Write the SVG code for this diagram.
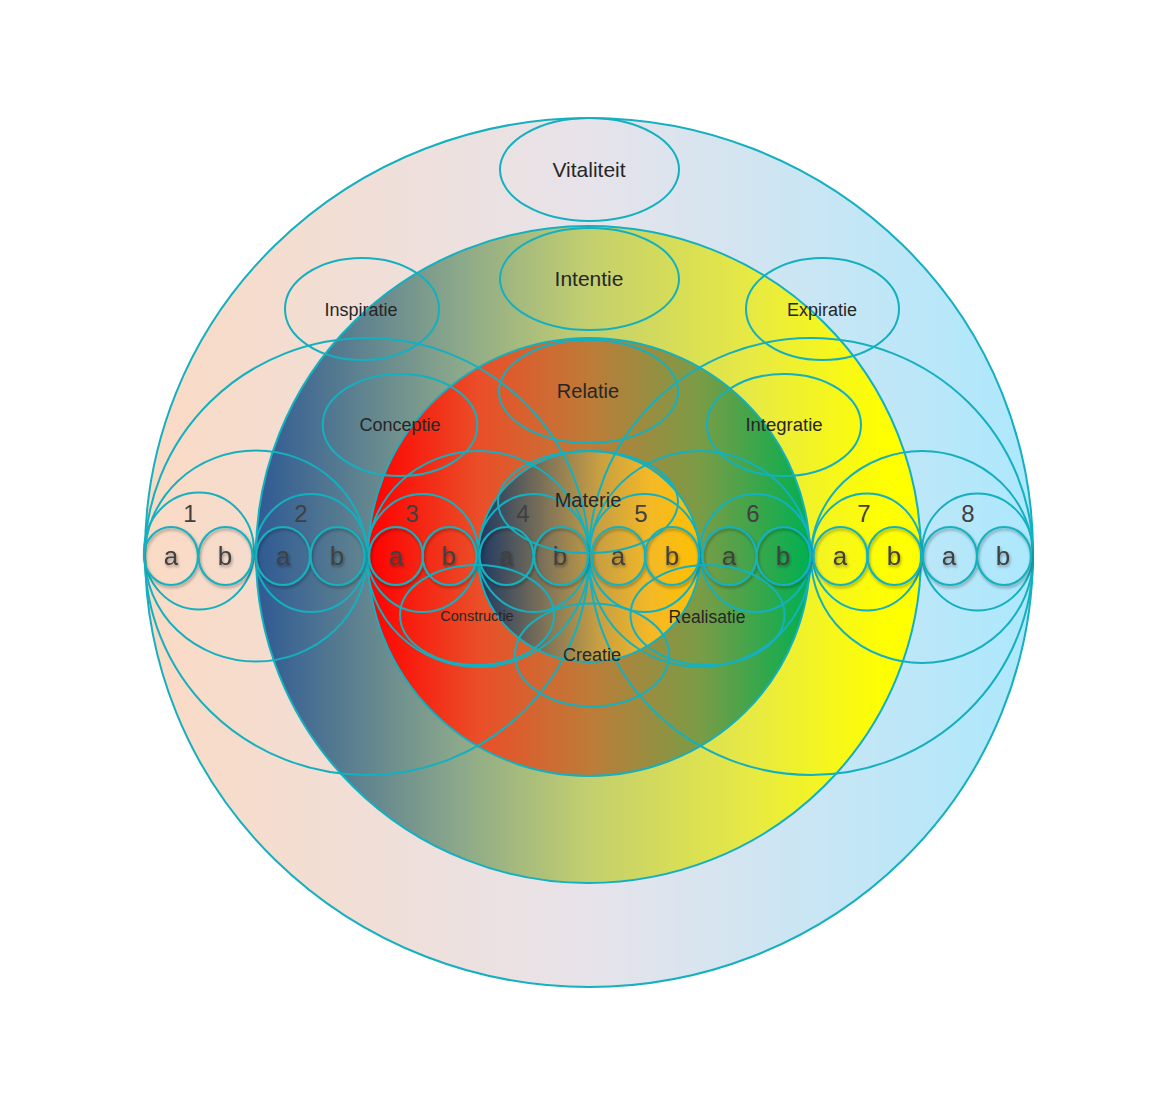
<svg xmlns="http://www.w3.org/2000/svg" width="1154" height="1106" viewBox="0 0 1154 1106">
<defs>
<linearGradient id="g1" x1="0" y1="0" x2="1" y2="0">
<stop offset="0" stop-color="#FADAC4"/>
<stop offset="0.5" stop-color="#E7E3EA"/>
<stop offset="1" stop-color="#ACE8FD"/>
</linearGradient>
<linearGradient id="g2" x1="0" y1="0" x2="1" y2="0">
<stop offset="0" stop-color="#2F5A94"/>
<stop offset="0.3" stop-color="#8AA78B"/>
<stop offset="0.5" stop-color="#C3CF6F"/>
<stop offset="0.75" stop-color="#E8EA42"/>
<stop offset="0.95" stop-color="#FFFF00"/>
<stop offset="1" stop-color="#FFFF00"/>
</linearGradient>
<linearGradient id="g3" x1="0" y1="0" x2="1" y2="0">
<stop offset="0" stop-color="#FF0000"/>
<stop offset="0.25" stop-color="#EA4E28"/>
<stop offset="0.5" stop-color="#BE7B38"/>
<stop offset="0.75" stop-color="#7A9C46"/>
<stop offset="1" stop-color="#00B050"/>
</linearGradient>
<linearGradient id="g4" x1="0" y1="0" x2="1" y2="0">
<stop offset="0" stop-color="#1E3862"/>
<stop offset="0.35" stop-color="#8E7C55"/>
<stop offset="0.55" stop-color="#C9A042"/>
<stop offset="0.78" stop-color="#F4B925"/>
<stop offset="1" stop-color="#FFC000"/>
</linearGradient>
<filter id="sh" x="-30%" y="-30%" width="160%" height="160%">
<feDropShadow dx="1" dy="2" stdDeviation="1.6" flood-color="#000" flood-opacity="0.35"/>
</filter>
<style>
.ln{fill:none;stroke:#14B0BF;stroke-width:2}
.sm{fill:none;stroke:#14B0BF;stroke-width:2.2}
.lbl{font-family:"Liberation Sans",Arial,sans-serif;fill:#262626;text-anchor:middle}
.ab{font-family:"Liberation Sans",Arial,sans-serif;fill:#404040;font-size:26px;text-anchor:middle}
.num{font-family:"Liberation Sans",Arial,sans-serif;fill:#404040;font-size:24px;text-anchor:middle}
</style>
</defs>

<g id="rings">
<ellipse cx="589" cy="552.5" rx="444" ry="434.5" fill="url(#g1)" class="ln" style="fill:url(#g1)"/>
<ellipse cx="588.5" cy="554.5" rx="332.5" ry="328.5" class="ln" style="fill:url(#g2)"/>
<ellipse cx="589" cy="557" rx="221" ry="219" class="ln" style="fill:url(#g3)"/>
<ellipse cx="589" cy="556.5" rx="111" ry="105.5" class="ln" style="fill:url(#g4)"/>
</g>

<g id="connectors">
<ellipse class="ln" cx="367" cy="556.5" rx="222" ry="218.5"/>
<ellipse class="ln" cx="811" cy="556.5" rx="222" ry="218.5"/>
<ellipse class="ln" cx="256" cy="556" rx="111" ry="105.5"/>
<ellipse class="ln" cx="478" cy="559" rx="111" ry="108"/>
<ellipse class="ln" cx="700" cy="559" rx="111" ry="108"/>
<ellipse class="ln" cx="922" cy="557" rx="111" ry="106"/>
</g>

<g id="pair-1"><ellipse class="ln" cx="199" cy="551" rx="55" ry="58.5"/><text class="num" x="190" y="522">1</text></g>
<g id="pair-2"><ellipse class="ln" cx="311" cy="553" rx="56" ry="59"/><text class="num" x="301" y="522">2</text></g>
<g id="pair-3"><ellipse class="ln" cx="422.5" cy="553" rx="55.5" ry="59"/><text class="num" x="412" y="522">3</text></g>
<g id="pair-4"><ellipse class="ln" cx="533.5" cy="553" rx="55.5" ry="59"/><text class="num" x="523" y="522">4</text></g>
<g id="pair-5"><ellipse class="ln" cx="644.5" cy="553" rx="55.5" ry="59"/><text class="num" x="641" y="522">5</text></g>
<g id="pair-6"><ellipse class="ln" cx="755.5" cy="553" rx="55.5" ry="59"/><text class="num" x="753" y="522">6</text></g>
<g id="pair-7"><ellipse class="ln" cx="867" cy="552" rx="55" ry="58.5"/><text class="num" x="864" y="522">7</text></g>
<g id="pair-8"><ellipse class="ln" cx="977.5" cy="552" rx="55.5" ry="58.5"/><text class="num" x="968" y="522">8</text></g>

<g id="small" filter="url(#sh)">
<g id="c1a"><ellipse class="sm" cx="171" cy="556" rx="27" ry="29"/><text class="ab" x="171" y="565">a</text></g>
<g id="c1b"><ellipse class="sm" cx="225.5" cy="556" rx="27" ry="29"/><text class="ab" x="225" y="565">b</text></g>
<g id="c2a"><ellipse class="sm" cx="283" cy="556" rx="27" ry="29"/><text class="ab" x="283" y="565">a</text></g>
<g id="c2b"><ellipse class="sm" cx="337.5" cy="556" rx="27" ry="29"/><text class="ab" x="337" y="565">b</text></g>
<g id="c3a"><ellipse class="sm" cx="396" cy="556" rx="27" ry="29"/><text class="ab" x="396" y="565">a</text></g>
<g id="c3b"><ellipse class="sm" cx="449.5" cy="556" rx="27" ry="29"/><text class="ab" x="449" y="565">b</text></g>
<g id="c4a"><ellipse class="sm" cx="506.5" cy="556" rx="27" ry="29"/><text class="ab" x="506" y="565">a</text></g>
<g id="c4b"><ellipse class="sm" cx="561" cy="556" rx="27" ry="29"/><text class="ab" x="560" y="565">b</text></g>
<g id="c5a"><ellipse class="sm" cx="618.5" cy="556" rx="27" ry="29"/><text class="ab" x="618" y="565">a</text></g>
<g id="c5b"><ellipse class="sm" cx="672" cy="556" rx="27" ry="29"/><text class="ab" x="672" y="565">b</text></g>
<g id="c6a"><ellipse class="sm" cx="729.5" cy="556" rx="27" ry="29"/><text class="ab" x="729" y="565">a</text></g>
<g id="c6b"><ellipse class="sm" cx="783.5" cy="556" rx="27" ry="29"/><text class="ab" x="783" y="565">b</text></g>
<g id="c7a"><ellipse class="sm" cx="840.5" cy="556" rx="27" ry="29"/><text class="ab" x="840" y="565">a</text></g>
<g id="c7b"><ellipse class="sm" cx="894.5" cy="556" rx="27" ry="29"/><text class="ab" x="894" y="565">b</text></g>
<g id="c8a"><ellipse class="sm" cx="950" cy="556" rx="27" ry="29"/><text class="ab" x="949" y="565">a</text></g>
<g id="c8b"><ellipse class="sm" cx="1004" cy="556" rx="27" ry="29"/><text class="ab" x="1003" y="565">b</text></g>
</g>

<g id="vitaliteit"><ellipse class="ln" cx="589.5" cy="169.5" rx="89.5" ry="51.5"/><text class="lbl" x="589" y="177" font-size="21">Vitaliteit</text></g>
<g id="intentie"><ellipse class="ln" cx="589.5" cy="279" rx="89.5" ry="51"/><text class="lbl" x="589" y="286" font-size="21">Intentie</text></g>
<g id="relatie"><ellipse class="ln" cx="588.5" cy="391.5" rx="89.5" ry="51.5"/><text class="lbl" x="588" y="398" font-size="20">Relatie</text></g>
<g id="materie"><ellipse class="ln" cx="588" cy="502" rx="90" ry="51"/><text class="lbl" x="588" y="507" font-size="20">Materie</text></g>
<g id="inspiratie"><ellipse class="ln" cx="362" cy="309" rx="77" ry="51"/><text class="lbl" x="361" y="316" font-size="18">Inspiratie</text></g>
<g id="expiratie"><ellipse class="ln" cx="822.5" cy="309" rx="76.5" ry="51"/><text class="lbl" x="822" y="316" font-size="18">Expiratie</text></g>
<g id="conceptie"><ellipse class="ln" cx="400" cy="425" rx="77.3" ry="51"/><text class="lbl" x="400" y="431" font-size="18">Conceptie</text></g>
<g id="integratie"><ellipse class="ln" cx="784" cy="425" rx="77" ry="51"/><text class="lbl" x="784" y="431" font-size="18.5">Integratie</text></g>
<g id="constructie"><ellipse class="ln" cx="477" cy="615" rx="77" ry="50"/><text class="lbl" x="477" y="621" font-size="14.5">Constructie</text></g>
<g id="realisatie"><ellipse class="ln" cx="707.5" cy="615" rx="77" ry="50"/><text class="lbl" x="707" y="623" font-size="17.5">Realisatie</text></g>
<g id="creatie"><ellipse class="ln" cx="592" cy="655" rx="77" ry="51.5"/><text class="lbl" x="592" y="661" font-size="18">Creatie</text></g>
</svg>
